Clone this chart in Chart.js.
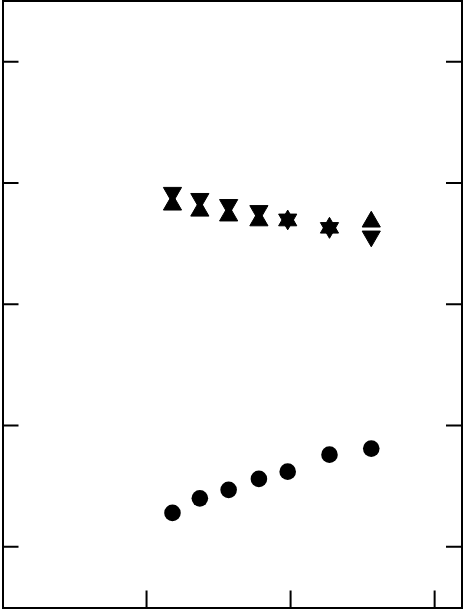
<!DOCTYPE html>
<html>
<head>
<meta charset="utf-8">
<script src="https://cdn.jsdelivr.net/npm/chart.js@4.4.1/dist/chart.umd.min.js"></script>
<style>
    html, body { margin: 0; padding: 0; background: #fff; }
    canvas { display: block; }
</style>
</head>
<body>
<canvas id="chart" width="474" height="609"></canvas>
<script>
const xValues = [1.18, 1.37, 1.57, 1.78, 1.98, 2.27, 2.56];
const circleValues = [1.28, 1.40, 1.47, 1.56, 1.62, 1.76, 1.81];
const downTriangleValues = [3.92, 3.87, 3.82, 3.77, 3.70, 3.63, 3.56];
const upTriangleValues = [3.82, 3.77, 3.73, 3.69, 3.69, 3.63, 3.68];
const xTicks = [1, 2, 3];
const yTicks = [1, 2, 3, 4, 5];

const toPoints = values => values.map((v, i) => ({ x: xValues[i], y: v }));

// tick marks point into the plot, so draw them ourselves from the scales
const inwardTicks = {
    id: "inwardTicks",
    afterDraw(chart) {
        const { ctx, chartArea, scales } = chart;
        ctx.save();
        ctx.strokeStyle = "#000";
        ctx.lineWidth = 2;
        ctx.beginPath();
        yTicks.forEach(v => {
            const py = scales.y.getPixelForValue(v);
            ctx.moveTo(chartArea.left, py);
            ctx.lineTo(chartArea.left + 16, py);
            ctx.moveTo(chartArea.right - 16, py);
            ctx.lineTo(chartArea.right, py);
        });
        xTicks.forEach(v => {
            const px = scales.x.getPixelForValue(v);
            ctx.moveTo(px, chartArea.bottom);
            ctx.lineTo(px, chartArea.bottom - 17);
        });
        ctx.stroke();
        ctx.restore();
    }
};

// axes only give the frame lines, no room for labels
const frameAxis = (position, min, max) => ({
    type: "linear",
    position: position,
    min: min,
    max: max,
    display: true,
    grid: { display: false, drawTicks: false },
    ticks: { display: false },
    border: { display: true, color: "#000", width: 2 },
    afterFit: scale => {
        if (scale.isHorizontal()) scale.height = 0;
        else scale.width = 0;
    },
});

new Chart(document.getElementById("chart").getContext("2d"), {
    type: "scatter",
    data: {
        datasets: [{
                label: "circles",
                data: toPoints(circleValues),
                pointStyle: "circle",
                pointRadius: 8.3,
                borderWidth: 0,
                backgroundColor: "#000",
            },
            {
                label: "down triangles",
                data: toPoints(downTriangleValues),
                pointStyle: "triangle",
                pointRotation: 180,
                pointRadius: 10.5,
                borderWidth: 1,
                borderColor: "#000",
                backgroundColor: "#000",
            },
            {
                label: "up triangles",
                data: toPoints(upTriangleValues),
                pointStyle: "triangle",
                pointRadius: 10.5,
                borderWidth: 1,
                borderColor: "#000",
                backgroundColor: "#000",
            }
        ]
    },
    options: {
        responsive: false,
        animation: false,
        events: [],
        layout: {
            autoPadding: false,
            padding: { left: 2.5, right: 12, top: 1, bottom: 1.5 },
        },
        plugins: {
            legend: { display: false },
            tooltip: { enabled: false },
        },
        scales: {
            x: frameAxis("bottom", 0, 3.19),
            y: frameAxis("left", 0.5, 5.5),
            x2: frameAxis("top", 0, 3.19),
            y2: frameAxis("right", 0.5, 5.5),
        },
    },
    plugins: [inwardTicks],
});
</script>
</body>
</html>
